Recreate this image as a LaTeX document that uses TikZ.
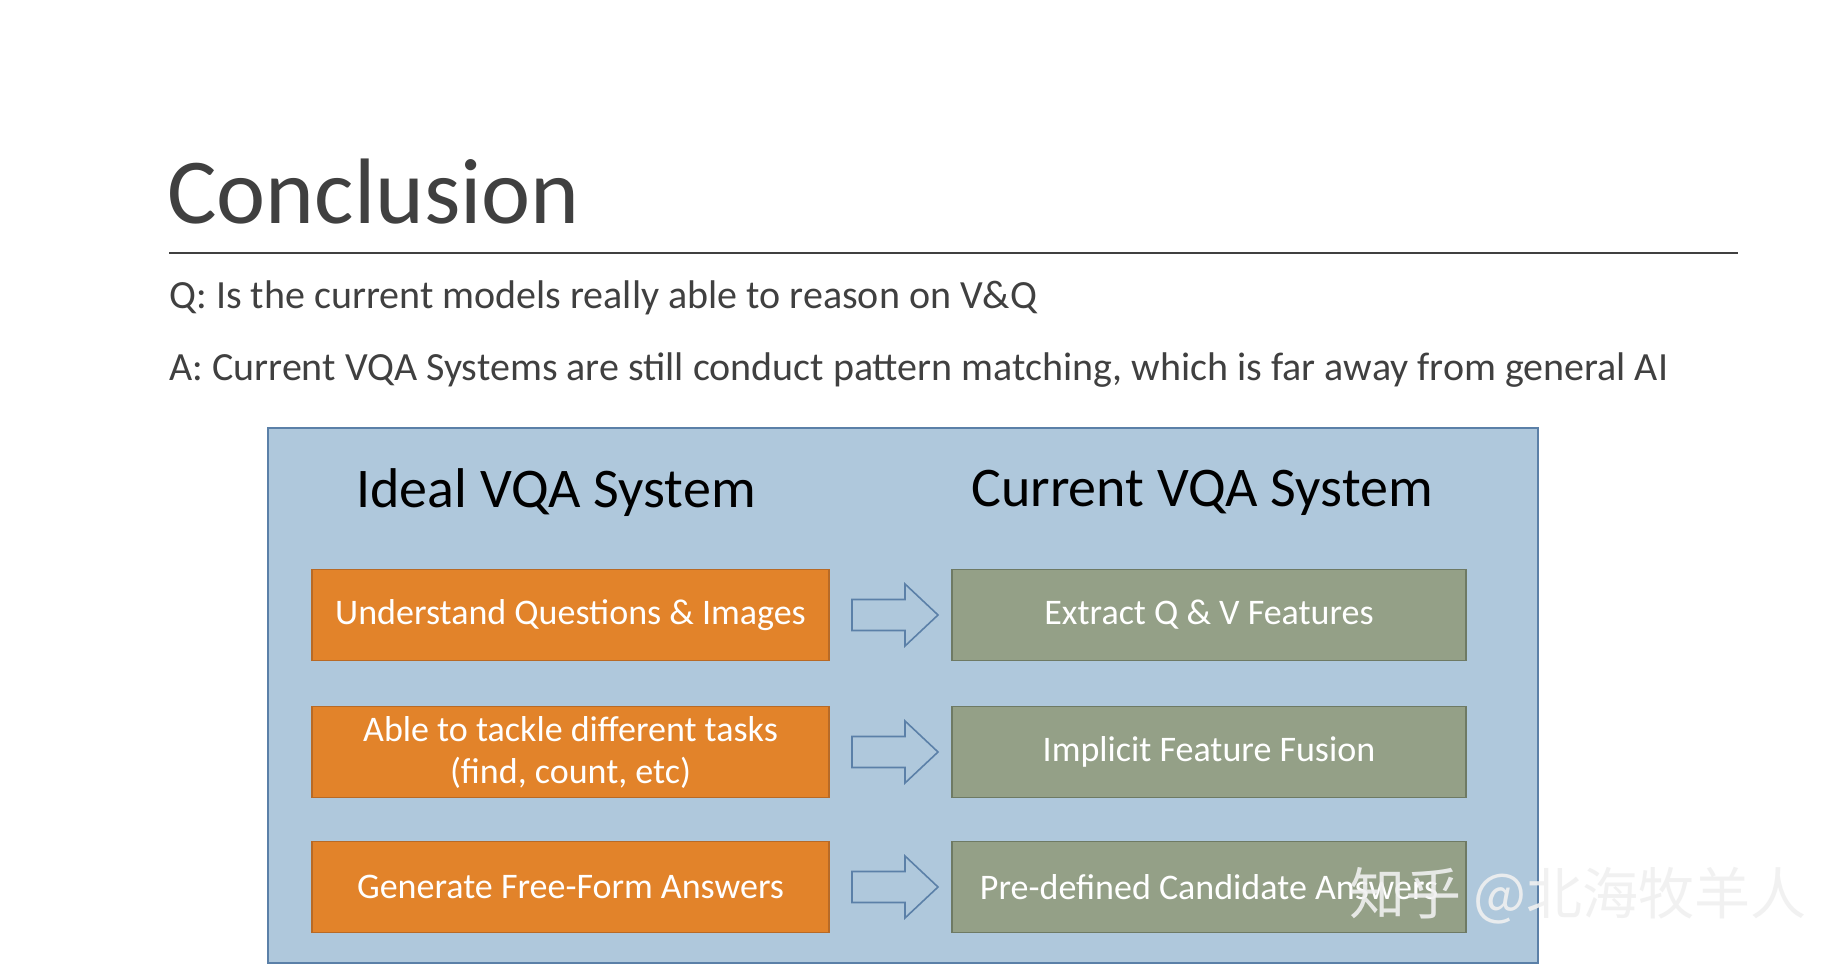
\documentclass[tikz,border=0pt]{standalone}
\usepackage{fontspec}
\setmainfont{Carlito}
\newfontfamily\cjk{Noto Sans CJK SC}
\definecolor{txt}{HTML}{404040}
\definecolor{panel}{HTML}{AFC8DC}
\definecolor{panelb}{HTML}{5B80A8}
\definecolor{org}{HTML}{E2832A}
\definecolor{orgb}{HTML}{B86A26}
\definecolor{grn}{HTML}{94A087}
\definecolor{grnb}{HTML}{6E7A64}
\begin{document}
\begin{tikzpicture}[x=0.5pt,y=-0.5pt,
  obox/.style={draw=orgb,fill=org,line width=0.8pt,minimum width=258.5pt,minimum height=45.5pt,text=white,font=\fontsize{18}{21}\selectfont,align=center,inner sep=0pt},
  gbox/.style={draw=grnb,fill=grn,line width=0.8pt,minimum width=257pt,minimum height=45.5pt,text=white,font=\fontsize{18}{21}\selectfont,align=center,inner sep=0pt},
  barrow/.style={draw=panelb,fill=panel,line width=0.8pt,line join=miter}]
\useasboundingbox (0,0) rectangle (1848,972);
\fill[white] (0,0) rectangle (1848,972);
\node[anchor=base west,inner sep=0pt,text=txt,font=\fontsize{46.5}{52}\selectfont] (title) at (167,224) {Conclusion};
\draw[txt,line width=0.7pt] (169,253) coordinate (r1) -- (1738,253) coordinate (r2);
\node[anchor=base west,inner sep=0pt,text=txt,font=\fontsize{20}{24}\selectfont] (q) at (169,309) {Q: Is the current models really able to reason on V\&Q};
\node[anchor=base west,inner sep=0pt,text=txt,font=\fontsize{20}{24}\selectfont] (a) at (169,381) {A: Current VQA Systems are still conduct pattern matching, which is far away from general AI};
\draw[panelb,fill=panel,line width=0.8pt] (268,428) rectangle (1538,963);
\node[font=\fontsize{28}{32}\selectfont] (h1) at (556,493) {Ideal VQA System};
\node[font=\fontsize{28}{32}\selectfont] (h2) at (1202,493) {Current VQA System};
\node[obox] (o1) at (570.5,615) {Understand Questions \& Images};
\node[obox] (o2) at (570.5,752) {Able to tackle different tasks\\(find, count, etc)};
\node[obox] (o3) at (570.5,887) {Generate Free-Form Answers};
\node[gbox] (g1) at (1209,615) {Extract Q \& V Features};
\node[gbox] (g2) at (1209,752) {Implicit Feature Fusion};
\node[gbox] (g3) at (1209,887) {Pre-defined Candidate Answers};
\foreach \y/\n in {615/1,752/2,887/3}{
  \coordinate (c\n) at (852,\y);
  \draw[barrow] (c\n) ++(0,-15.5) -- ++(53,0) -- ++(0,-15.5) -- ++(33,31) -- ++(-33,31) -- ++(0,-15.5) -- ++(-53,0) -- cycle;
}
\node[anchor=west,inner sep=0pt,text=white!88!gray,font=\cjk\fontsize{28}{30}\selectfont,opacity=0.9] (wm) at (1349,896) {知乎 @北海牧羊人};
\end{tikzpicture}
\end{document}
